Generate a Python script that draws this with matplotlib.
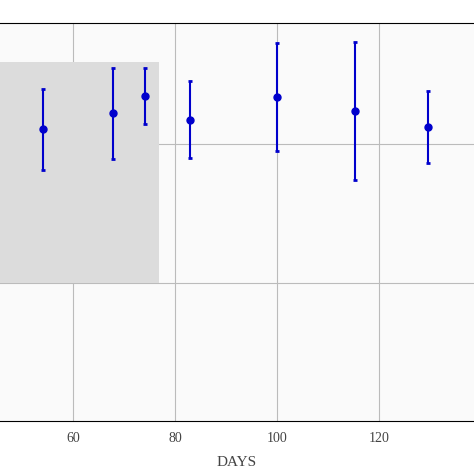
import matplotlib.pyplot as plt
from matplotlib.patches import Rectangle

days = [54.1, 67.8, 74.1, 82.9, 100.0, 115.3, 129.6]
mean = [1.054, 1.112, 1.173, 1.086, 1.169, 1.119, 1.061]
upper = [1.198, 1.273, 1.273, 1.227, 1.363, 1.367, 1.191]
lower = [0.906, 0.946, 1.072, 0.950, 0.975, 0.871, 0.932]

plt.rcParams["font.family"] = ["Liberation Serif", "DejaVu Serif"]

fig = plt.figure(figsize=(4.74, 4.74), dpi=100)
ax = fig.add_axes([0.0, 53 / 474, 1.0, 398 / 474])
ax.set_facecolor("#fafafa")

ax.add_patch(Rectangle((45.7, 0.5), 76.9 - 45.7, 1.295 - 0.5,
                       facecolor="#dcdcdc", edgecolor="none", zorder=1))

yerr = [[m - l for m, l in zip(mean, lower)], [u - m for m, u in zip(mean, upper)]]
ax.errorbar(days, mean, yerr=yerr, fmt="o", color="#0000cc", ecolor="#0000cc",
            markersize=5, elinewidth=1.5, capsize=1.5, capthick=2, zorder=3)

ax.set_xlim(45.7, 138.6)
ax.set_ylim(0.0036, 1.435)
ax.set_xticks([60, 80, 100, 120])
ax.set_yticks([0.5, 1.0])
ax.set_yticklabels([])
ax.tick_params(axis="y", length=0)
ax.tick_params(axis="x", labelsize=10, colors="#444444", length=0, pad=8)
ax.grid(True, color="#bbbbbb", linewidth=0.8, zorder=0)
ax.set_axisbelow(True)
for s in ["left", "right"]:
    ax.spines[s].set_visible(False)
ax.spines["top"].set_color("black")
ax.spines["bottom"].set_color("black")
ax.set_xlabel("DAYS", fontsize=11, color="#444444", labelpad=8)

fig.savefig("out.png", dpi=100)
